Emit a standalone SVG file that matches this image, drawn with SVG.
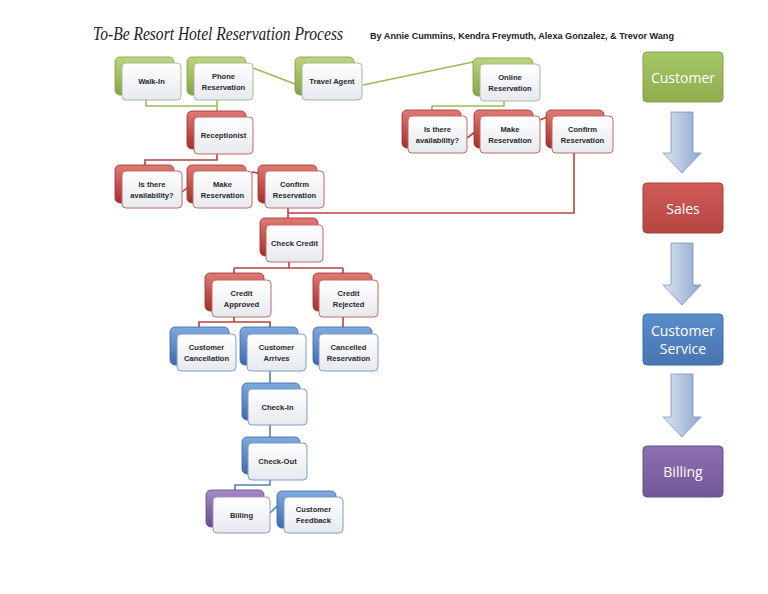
<svg xmlns="http://www.w3.org/2000/svg" width="768" height="594" viewBox="0 0 768 594">
<defs>
<linearGradient id="gG" x1="0" y1="0" x2="0" y2="1"><stop offset="0" stop-color="#bcd67c"/><stop offset="1" stop-color="#86a446"/></linearGradient>
<linearGradient id="gR" x1="0" y1="0" x2="0" y2="1"><stop offset="0" stop-color="#e07a75"/><stop offset="1" stop-color="#a52e2a"/></linearGradient>
<linearGradient id="gB" x1="0" y1="0" x2="0" y2="1"><stop offset="0" stop-color="#7faae0"/><stop offset="1" stop-color="#3d6cab"/></linearGradient>
<linearGradient id="gP" x1="0" y1="0" x2="0" y2="1"><stop offset="0" stop-color="#a58ac7"/><stop offset="1" stop-color="#684c8b"/></linearGradient>
<linearGradient id="gF" x1="0" y1="0" x2="0" y2="1"><stop offset="0" stop-color="#ffffff"/><stop offset="1" stop-color="#e6e9ee"/></linearGradient>
<linearGradient id="gA" x1="0" y1="0" x2="1" y2="0"><stop offset="0" stop-color="#dbe4f2"/><stop offset="1" stop-color="#8fa8cf"/></linearGradient>
<linearGradient id="bG" x1="0" y1="0" x2="0" y2="1"><stop offset="0" stop-color="#a7c868"/><stop offset="1" stop-color="#8dac4d"/></linearGradient>
<linearGradient id="bR" x1="0" y1="0" x2="0" y2="1"><stop offset="0" stop-color="#cf5c58"/><stop offset="1" stop-color="#b54541"/></linearGradient>
<linearGradient id="bB" x1="0" y1="0" x2="0" y2="1"><stop offset="0" stop-color="#5b8dcb"/><stop offset="1" stop-color="#4775b0"/></linearGradient>
<linearGradient id="bP" x1="0" y1="0" x2="0" y2="1"><stop offset="0" stop-color="#8d70b0"/><stop offset="1" stop-color="#725896"/></linearGradient>
</defs>
<style>
.bk{stroke-width:0.8}
.g .bk{fill:url(#gG);stroke:#7f9b45}
.r .bk{fill:url(#gR);stroke:#9a2e2a}
.b .bk{fill:url(#gB);stroke:#3b659e}
.p .bk{fill:url(#gP);stroke:#604682}
.fr{fill:url(#gF);stroke-width:1}
.g .fr{stroke:#a9b99a}
.r .fr{stroke:#c46a66}
.b .fr{stroke:#7f9dc4}
.p .fr{stroke:#a493bd}
.t{font-family:"Liberation Sans",Arial,sans-serif;font-size:7.6px;font-weight:bold;fill:#2a2a2a;text-anchor:middle;dominant-baseline:central}
.cn{fill:none;stroke-width:1.6}
.cg{stroke:#9bbb59}.cr{stroke:#b7413d}.cb{stroke:#4f81bd}
.big{font-family:"Open Sans","Liberation Sans",sans-serif;font-size:14px;fill:#ffffff;text-anchor:middle;dominant-baseline:central}
.arr{fill:url(#gA);stroke:#7793bd;stroke-width:0.8}
</style>
<text x="93" y="40" font-family="'Liberation Serif',serif" font-style="italic" font-size="18" fill="#222" textLength="250" lengthAdjust="spacingAndGlyphs">To-Be Resort Hotel Reservation Process</text>
<text x="370" y="39" font-family="'Liberation Sans',Arial,sans-serif" font-weight="bold" font-size="8.6" fill="#222" textLength="304" lengthAdjust="spacingAndGlyphs">By Annie Cummins, Kendra Freymuth, Alexa Gonzalez, &amp; Trevor Wang</text>
<g id="connectors">
<path class="cn cg" d="M146,95 V106 H217 M217,95 V111"/>
<path class="cn cg" d="M253,68 L295,84 M363,85 L473,62"/>
<path class="cn cg" d="M504,96 V106 H432 V110"/>
<path class="cn cr" d="M217,150 V160 H145 V165"/>
<path class="cn cr" d="M182,192 L187,188 M252,172 L258,173"/>
<path class="cn cr" d="M467,138 L475,132 M540,120 L547,117"/>
<path class="cn cr" d="M574,150 V213 H288 M288,205 V218"/>
<path class="cn cr" d="M289,256 V268 M234,268 H343 M234,268 V273 M343,268 V273"/>
<path class="cn cr" d="M234,312 V322 H199 V327 M234,322 H270 V327 M343,312 V327"/>
<path class="cn cb" d="M270,366 V383 M270,420 V437 M270,474 V485 H235 V490"/>
<path class="cn cb" d="M270,513 L277,506"/>
</g>
<g id="walkin" class="g"><rect class="bk" x="115" y="57" width="59" height="38" rx="5"/><rect class="fr" x="122" y="63" width="59" height="37" rx="4"/><text class="t" x="151.5" y="81.5">Walk-In</text></g>
<g id="phone" class="g"><rect class="bk" x="187" y="57" width="59" height="38" rx="5"/><rect class="fr" x="194" y="63" width="59" height="37" rx="4"/><text class="t" x="223.5" y="76">Phone</text><text class="t" x="223.5" y="87">Reservation</text></g>
<g id="travel" class="g"><rect class="bk" x="295" y="57" width="59" height="38" rx="5"/><rect class="fr" x="302" y="63" width="60" height="37" rx="4"/><text class="t" x="332" y="81.5">Travel Agent</text></g>
<g id="online" class="g"><rect class="bk" x="473" y="58" width="60" height="38" rx="5"/><rect class="fr" x="480" y="64" width="60" height="37" rx="4"/><text class="t" x="510" y="77">Online</text><text class="t" x="510" y="88">Reservation</text></g>
<g id="receptionist" class="r"><rect class="bk" x="187" y="111" width="59" height="38" rx="5"/><rect class="fr" x="194" y="117" width="59" height="37" rx="4"/><text class="t" x="223.5" y="135.5">Receptionist</text></g>
<g id="avail1" class="r"><rect class="bk" x="115" y="165" width="59" height="38" rx="5"/><rect class="fr" x="122" y="171" width="60" height="37" rx="4"/><text class="t" x="152" y="184">Is there</text><text class="t" x="152" y="195">availability?</text></g>
<g id="make1" class="r"><rect class="bk" x="187" y="165" width="59" height="38" rx="5"/><rect class="fr" x="193" y="171" width="59" height="37" rx="4"/><text class="t" x="222.5" y="184">Make</text><text class="t" x="222.5" y="195">Reservation</text></g>
<g id="confirm1" class="r"><rect class="bk" x="258" y="165" width="59" height="38" rx="5"/><rect class="fr" x="265" y="171" width="59" height="37" rx="4"/><text class="t" x="294.5" y="184">Confirm</text><text class="t" x="294.5" y="195">Reservation</text></g>
<g id="avail2" class="r"><rect class="bk" x="402" y="110" width="59" height="38" rx="5"/><rect class="fr" x="408" y="116" width="59" height="37" rx="4"/><text class="t" x="437.5" y="129">Is there</text><text class="t" x="437.5" y="140">availability?</text></g>
<g id="make2" class="r"><rect class="bk" x="474" y="110" width="59" height="38" rx="5"/><rect class="fr" x="480" y="116" width="60" height="37" rx="4"/><text class="t" x="510" y="129">Make</text><text class="t" x="510" y="140">Reservation</text></g>
<g id="confirm2" class="r"><rect class="bk" x="546" y="110" width="58" height="38" rx="5"/><rect class="fr" x="552" y="116" width="61" height="37" rx="4"/><text class="t" x="582.5" y="129">Confirm</text><text class="t" x="582.5" y="140">Reservation</text></g>
<g id="checkcredit" class="r"><rect class="bk" x="260" y="218" width="58" height="38" rx="5"/><rect class="fr" x="266" y="225" width="57" height="37" rx="4"/><text class="t" x="294.5" y="243.5">Check Credit</text></g>
<g id="approved" class="r"><rect class="bk" x="205" y="273" width="59" height="38" rx="5"/><rect class="fr" x="212" y="280" width="59" height="37" rx="4"/><text class="t" x="241.5" y="293">Credit</text><text class="t" x="241.5" y="304">Approved</text></g>
<g id="rejected" class="r"><rect class="bk" x="313" y="273" width="59" height="38" rx="5"/><rect class="fr" x="319" y="280" width="59" height="37" rx="4"/><text class="t" x="348.5" y="293">Credit</text><text class="t" x="348.5" y="304">Rejected</text></g>
<g id="cancellation" class="b"><rect class="bk" x="170" y="327" width="59" height="38" rx="5"/><rect class="fr" x="177" y="334" width="59" height="37" rx="4"/><text class="t" x="206.5" y="347">Customer</text><text class="t" x="206.5" y="358">Cancellation</text></g>
<g id="arrives" class="b"><rect class="bk" x="240" y="327" width="58" height="38" rx="5"/><rect class="fr" x="247" y="334" width="59" height="37" rx="4"/><text class="t" x="276.5" y="347">Customer</text><text class="t" x="276.5" y="358">Arrives</text></g>
<g id="cancelled" class="b"><rect class="bk" x="313" y="327" width="59" height="38" rx="5"/><rect class="fr" x="319" y="334" width="59" height="37" rx="4"/><text class="t" x="348.5" y="347">Cancelled</text><text class="t" x="348.5" y="358">Reservation</text></g>
<g id="checkin" class="b"><rect class="bk" x="242" y="383" width="58" height="37" rx="5"/><rect class="fr" x="248" y="389" width="59" height="36" rx="4"/><text class="t" x="277.5" y="407">Check-In</text></g>
<g id="checkout" class="b"><rect class="bk" x="242" y="437" width="58" height="37" rx="5"/><rect class="fr" x="248" y="443" width="59" height="37" rx="4"/><text class="t" x="277.5" y="461.5">Check-Out</text></g>
<g id="billing" class="p"><rect class="bk" x="206" y="490" width="58" height="37" rx="5"/><rect class="fr" x="213" y="497" width="57" height="36" rx="4"/><text class="t" x="241.5" y="515">Billing</text></g>
<g id="feedback" class="b"><rect class="bk" x="277" y="491" width="59" height="37" rx="5"/><rect class="fr" x="284" y="497" width="59" height="36" rx="4"/><text class="t" x="313.5" y="509.5">Customer</text><text class="t" x="313.5" y="520.5">Feedback</text></g>
<g id="legend-customer"><rect x="643" y="52" width="80" height="50" rx="4" fill="url(#bG)" stroke="#85a24c" stroke-width="1"/><text class="big" x="683" y="77">Customer</text></g>
<g id="arrow1"><path class="arr" d="M671,112 H693 V153 H701 L682,173 L663,153 H671 Z"/></g>
<g id="legend-sales"><rect x="643" y="183" width="80" height="50" rx="4" fill="url(#bR)" stroke="#a83f3b" stroke-width="1"/><text class="big" x="683" y="208">Sales</text></g>
<g id="arrow2"><path class="arr" d="M671,243 H693 V285 H701 L682,305 L663,285 H671 Z"/></g>
<g id="legend-service"><rect x="643" y="314" width="80" height="51" rx="4" fill="url(#bB)" stroke="#416ea6" stroke-width="1"/><text class="big" x="683" y="330">Customer</text><text class="big" x="683" y="348">Service</text></g>
<g id="arrow3"><path class="arr" d="M671,374 H693 V417 H701 L682,437 L663,417 H671 Z"/></g>
<g id="legend-billing"><rect x="643" y="446" width="80" height="51" rx="4" fill="url(#bP)" stroke="#6a518c" stroke-width="1"/><text class="big" x="683" y="471.5">Billing</text></g>
</svg>
